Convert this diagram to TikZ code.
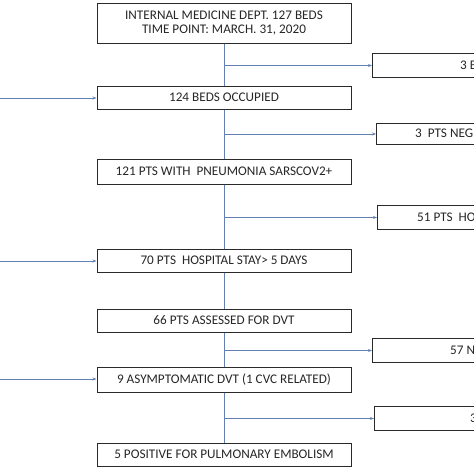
\documentclass[tikz,border=0pt]{standalone}
\usepackage{fontspec}
\setmainfont{Carlito}
\usetikzlibrary{arrows.meta}
\definecolor{lnc}{HTML}{6480B0}
\definecolor{bxc}{HTML}{2A2A2A}
\tikzset{
  mainbox/.style={draw=bxc, line width=1pt, rectangle, inner sep=0pt, minimum width=254pt, font=\fontsize{13.2}{14.5}\selectfont, align=center, text=black!85},
  sidebox/.style={draw=bxc, line width=1pt, rectangle, inner sep=0pt, anchor=north west, minimum width=200pt},
  sidetext/.style={anchor=west, inner sep=0pt, font=\fontsize{13.2}{14.5}\selectfont, text=black!85},
  conn/.style={draw=lnc, line width=0.9pt},
  arr/.style={conn, -{Stealth[length=4pt,width=3pt]}}
}
\begin{document}
\begin{tikzpicture}[x=1pt,y=-1pt]
\useasboundingbox (0,0) rectangle (474,474);
\clip (0,0) rectangle (474,474);
% main column
\node[mainbox, minimum height=40pt] (b1) at (224,23) {INTERNAL MEDICINE DEPT. 127 BEDS\\TIME POINT: MARCH. 31, 2020};
\node[mainbox, minimum height=23pt] (b2) at (224,97.5) {124 BEDS OCCUPIED};
\node[mainbox, minimum height=25pt] (b3) at (224,171.5) {121 PTS WITH\ \ PNEUMONIA SARSCOV2+};
\node[mainbox, minimum height=23pt] (b4) at (224,260.5) {70 PTS\ \ HOSPITAL STAY> 5 DAYS};
\node[mainbox, minimum height=23pt] (b5) at (224,320.5) {66 PTS ASSESSED FOR DVT};
\node[mainbox, minimum height=25pt] (b6) at (224,379.5) {9 ASYMPTOMATIC DVT (1 CVC RELATED)};
\node[mainbox, minimum height=23pt] (b7) at (224,454.5) {5 POSITIVE FOR PULMONARY EMBOLISM};
% side boxes
\node[sidebox, minimum height=24pt] (r1) at (372,53) {};
\node[sidebox, minimum height=21pt] (r2) at (376,123) {};
\node[sidebox, minimum height=24pt] (r3) at (377,205) {};
\node[sidebox, minimum height=24pt] (r4) at (372,338) {};
\node[sidebox, minimum height=24pt] (r5) at (374,406) {};
\node[sidetext] (t1) at (460,65) {3 B};
\node[sidetext] (t2) at (415,133.5) {3\ \ PTS NEG};
\node[sidetext] (t3) at (417,217) {51 PTS\ \ HO};
\node[sidetext] (t4) at (450,350) {57 N};
\node[sidetext] (t5) at (470,418) {3};
% left entry points
\coordinate (l2) at (0,98);
\coordinate (l4) at (0,261);
\coordinate (l6) at (0,379);
% vertical trunk
\draw[conn] (b1) -- (b2);
\draw[conn] (b2) -- (b3);
\draw[conn] (b3) -- (b4);
\draw[conn] (b4) -- (b5);
\draw[conn] (b5) -- (b6);
\draw[conn] (b6) -- (b7);
% branches right
\draw[arr] (b1.south |- r1.west) -- (r1.west);
\draw[arr] (b2.south |- r2.west) -- (r2.west);
\draw[arr] (b3.south |- r3.west) -- (r3.west);
\draw[arr] (b5.south |- r4.west) -- (r4.west);
\draw[arr] (b6.south |- r5.west) -- (r5.west);
% entries left
\draw[arr] (l2) -- (b2.west |- l2);
\draw[arr] (l4) -- (b4.west |- l4);
\draw[arr] (l6) -- (b6.west |- l6);
\end{tikzpicture}
\end{document}
